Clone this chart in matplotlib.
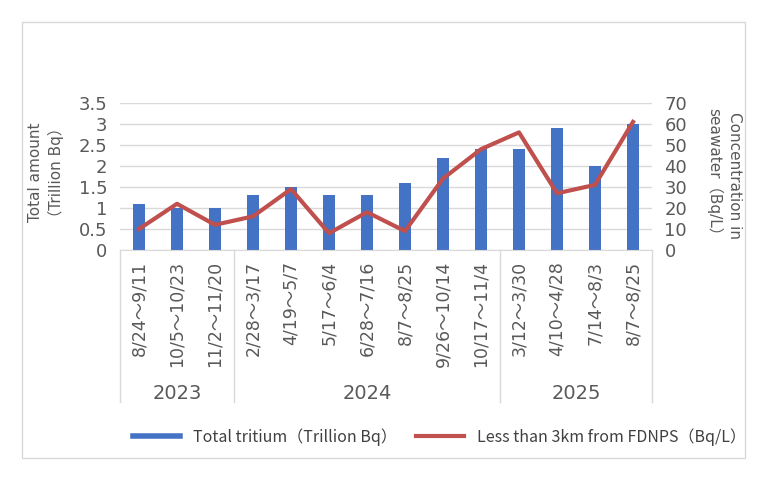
import matplotlib
matplotlib.use("Agg")
import matplotlib.pyplot as plt
import matplotlib.transforms as mtransforms
from matplotlib.patches import Rectangle
from matplotlib.lines import Line2D

plt.rcParams['font.family'] = ['DejaVu Sans', 'Noto Sans CJK JP']

# data
periods = ['8/24～9/11', '10/5～10/23', '11/2～11/20',
           '2/28～3/17', '4/19～5/7', '5/17～6/4', '6/28～7/16', '8/7～8/25',
           '9/26～10/14', '10/17～11/4',
           '3/12～3/30', '4/10～4/28', '7/14～8/3', '8/7～8/25']
years = ['2023', '2024', '2025']
year_counts = [3, 7, 4]
total_tritium = [1.1, 1.0, 1.0, 1.3, 1.5, 1.3, 1.3, 1.6, 2.2, 2.4, 2.4, 2.9, 2.0, 3.0]
seawater_conc = [10, 22, 12, 16, 29, 8, 18, 9, 34, 48, 56, 27, 31, 61]

blue = '#4472C4'
red = '#C0504D'
txt = '#595959'
grid = '#D9D9D9'

fig = plt.figure(figsize=(7.68, 4.8), dpi=100)
fig.patches.append(Rectangle((22/768, 1-458/480), 723/768, 436/480,
                             transform=fig.transFigure, fill=False,
                             edgecolor='#D9D9D9', linewidth=1))

ax = fig.add_axes([120/768, 1-250/480, 532/768, 147/480])
x = list(range(len(periods)))
ax.bar(x, total_tritium, width=0.34, color=blue, zorder=2,
       label='Total tritium（Trillion Bq）')
ax.set_ylim(0, 3.5)
ax.set_xlim(-0.5, len(periods)-0.5)
ax.set_yticks([0, 0.5, 1, 1.5, 2, 2.5, 3, 3.5])
ax.set_yticklabels(['0', '0.5', '1', '1.5', '2', '2.5', '3', '3.5'])
ax.yaxis.grid(True, color=grid, linewidth=1, zorder=0)
ax.set_axisbelow(True)
for s in ['top', 'left', 'right']:
    ax.spines[s].set_visible(False)
ax.spines['bottom'].set_color(grid)
ax.tick_params(axis='y', length=0, labelsize=13, labelcolor=txt, pad=9)
ax.set_xticks(x)
ax.set_xticklabels(periods, rotation=90, fontsize=12.5, color=txt)
ax.tick_params(axis='x', length=0, pad=8)

ax2 = ax.twinx()
ax2.plot(x, seawater_conc, color=red, linewidth=3, zorder=3,
         label='Less than 3km from FDNPS（Bq/L）')
ax2.set_ylim(0, 70)
ax2.set_yticks(range(0, 80, 10))
for s in ['top', 'left', 'right', 'bottom']:
    ax2.spines[s].set_visible(False)
ax2.tick_params(axis='y', length=0, labelsize=13, labelcolor=txt, pad=9)

# axis titles
fig.text(46/768, 1-172/480, 'Total amount\n（Trillion Bq）', rotation=90,
         ha='center', va='center', fontsize=11, color=txt, linespacing=1.3)
fig.text(724/768, 1-176/480, 'Concentration in\nseawater（Bq/L）', rotation=270,
         ha='center', va='center', fontsize=11, color=txt, linespacing=1.3)

# year grouping under the tick labels
trans = mtransforms.blended_transform_factory(ax.transData, ax.transAxes)
bounds = [-0.5]
for c in year_counts:
    bounds.append(bounds[-1] + c)
for b in bounds:
    ax.plot([b, b], [0, -1.034], transform=trans, color=grid, linewidth=1,
            clip_on=False)
for i, yr in enumerate(years):
    ax.text((bounds[i] + bounds[i+1]) / 2, -0.973, yr, transform=trans,
            ha='center', va='center', fontsize=14, color=txt)

h2, l2 = ax2.get_legend_handles_labels()
handles = [Line2D([0], [0], color=blue, linewidth=4), h2[0]]
labels = ['Total tritium（Trillion Bq）'] + l2
fig.legend(handles, labels, loc='center', bbox_to_anchor=(0.572, 1-437/480),
           ncol=2, frameon=False, prop={'family': ['Noto Sans CJK JP'], 'size': 11.5},
           labelcolor='#404040', handlelength=3, columnspacing=1.2)

fig.savefig('out.png', dpi=100)
